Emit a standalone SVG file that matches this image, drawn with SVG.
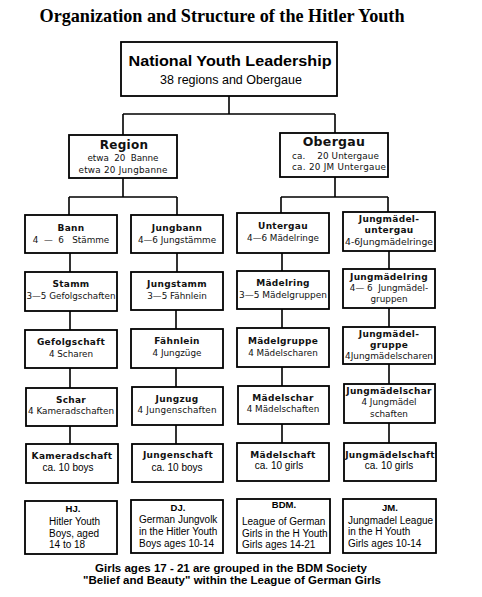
<svg xmlns="http://www.w3.org/2000/svg" width="482" height="597" viewBox="0 0 482 597">
<style>
.bx{fill:#fff;stroke:#000;stroke-width:1.8}
.ln{stroke:#000;stroke-width:1.6;fill:none}
.t{font-family:"DejaVu Sans","Liberation Sans",sans-serif;font-weight:bold;font-size:9px;text-anchor:middle;fill:#111;letter-spacing:0.3px}
.s{font-family:"DejaVu Sans","Liberation Sans",sans-serif;font-size:8.8px;text-anchor:middle;fill:#111}
.a{font-family:"Liberation Sans",Arial,sans-serif;font-size:10px;fill:#000}
.ac{font-family:"Liberation Sans",Arial,sans-serif;font-size:10px;fill:#000;text-anchor:middle}
.ab{font-family:"Liberation Sans",Arial,sans-serif;font-size:9.5px;font-weight:bold;fill:#000;text-anchor:middle}
</style>
<rect width="482" height="597" fill="#fff"/>
<text x="222" y="22" font-family="'Liberation Serif','DejaVu Serif',serif" font-size="19" font-weight="bold" text-anchor="middle" textLength="365" lengthAdjust="spacingAndGlyphs">Organization and Structure of the Hitler Youth</text>

<g id="connectors">
<path class="ln" d="M229 96V114M123 114H335M123 114V135M335 114V133"/>
<path class="ln" d="M123 178V197M69 197H177M69 197V215M177 197V215"/>
<path class="ln" d="M335 177V197M281 197H388M281 197V213M388 197V212"/>
<path class="ln" d="M70 253V272M70 311V330M70 368V388M70 426V444"/>
<path class="ln" d="M177 253V272M176 310V329M176 368V387M176 425V444"/>
<path class="ln" d="M282 253V271M282 309V328M282 367V386M282 424V443"/>
<path class="ln" d="M389 251V269M389 308V327M389 364V384M389 423V443"/>
</g>

<g id="national"><rect class="bx" x="121" y="42" width="216" height="54"/>
<text x="230" y="66" font-family="'Liberation Sans',Arial,sans-serif" font-weight="bold" font-size="14.5" text-anchor="middle" textLength="203" lengthAdjust="spacingAndGlyphs">National Youth Leadership</text>
<text class="ac" x="231" y="84" style="font-size:12.5px">38 regions and Obergaue</text></g>

<g id="region"><rect class="bx" x="69" y="135" width="108" height="43"/>
<text class="t" x="124" y="149" style="font-size:12px">Region</text>
<text class="s" x="123" y="161" textLength="71" xml:space="preserve">etwa  20  Banne</text>
<text class="s" x="123" y="173" textLength="89">etwa 20 Jungbanne</text></g>

<g id="obergau"><rect class="bx" x="280" y="133" width="108" height="44"/>
<text class="t" x="334" y="146" style="font-size:12.5px">Obergau</text>
<text class="s" x="292" y="159" style="text-anchor:start" textLength="87" xml:space="preserve">ca.    20 Untergaue</text>
<text class="s" x="292" y="170" style="text-anchor:start" textLength="94">ca. 20 JM Untergaue</text></g>

<g id="bann"><rect class="bx" x="25" y="215" width="92" height="38"/>
<text class="t" x="71" y="231">Bann</text><text class="s" x="71" y="243" xml:space="preserve">4  —  6   Stämme</text></g>
<g id="jungbann"><rect class="bx" x="131" y="215" width="92" height="38"/>
<text class="t" x="177" y="231">Jungbann</text><text class="s" x="177" y="243">4—6 Jungstämme</text></g>
<g id="untergau"><rect class="bx" x="237" y="213" width="92" height="40"/>
<text class="t" x="283" y="229">Untergau</text><text class="s" x="283" y="241">4—6 Mädelringe</text></g>
<g id="jmuntergau"><rect class="bx" x="343" y="212" width="92" height="39"/>
<text class="t" x="389" y="222">Jungmädel-</text><text class="t" x="389" y="233">untergau</text><text class="s" x="389" y="245" textLength="88" lengthAdjust="spacingAndGlyphs">4-6Jungmädelringe</text></g>

<g id="stamm"><rect class="bx" x="25" y="272" width="92" height="39"/>
<text class="t" x="71" y="287">Stamm</text><text class="s" x="71" y="299" textLength="89" lengthAdjust="spacingAndGlyphs">3—5 Gefolgschaften</text></g>
<g id="jungstamm"><rect class="bx" x="131" y="272" width="92" height="38"/>
<text class="t" x="177" y="287">Jungstamm</text><text class="s" x="177" y="299">3—5 Fähnlein</text></g>
<g id="maedelring"><rect class="bx" x="237" y="271" width="92" height="38"/>
<text class="t" x="283" y="286">Mädelring</text><text class="s" x="283" y="298" textLength="88" lengthAdjust="spacingAndGlyphs">3—5 Mädelgruppen</text></g>
<g id="jmring"><rect class="bx" x="343" y="269" width="92" height="39"/>
<text class="t" x="389" y="280">Jungmädelring</text><text class="s" x="389" y="291" xml:space="preserve">4— 6  Jungmädel-</text><text class="s" x="389" y="302">gruppen</text></g>

<g id="gefolgschaft"><rect class="bx" x="25" y="330" width="92" height="38"/>
<text class="t" x="71" y="345">Gefolgschaft</text><text class="s" x="71" y="357">4 Scharen</text></g>
<g id="faehnlein"><rect class="bx" x="131" y="329" width="92" height="39"/>
<text class="t" x="177" y="344">Fähnlein</text><text class="s" x="177" y="356">4 Jungzüge</text></g>
<g id="maedelgruppe"><rect class="bx" x="237" y="328" width="92" height="39"/>
<text class="t" x="283" y="344">Mädelgruppe</text><text class="s" x="283" y="356">4 Mädelscharen</text></g>
<g id="jmgruppe"><rect class="bx" x="343" y="327" width="92" height="37"/>
<text class="t" x="389" y="337">Jungmädel-</text><text class="t" x="389" y="348">gruppe</text><text class="s" x="389" y="359" textLength="88" lengthAdjust="spacingAndGlyphs">4Jungmädelscharen</text></g>

<g id="schar"><rect class="bx" x="26" y="388" width="91" height="38"/>
<text class="t" x="71" y="403">Schar</text><text class="s" x="71" y="414" textLength="86" lengthAdjust="spacingAndGlyphs">4 Kameradschaften</text></g>
<g id="jungzug"><rect class="bx" x="132" y="387" width="91" height="38"/>
<text class="t" x="177" y="402">Jungzug</text><text class="s" x="177" y="413" textLength="79">4 Jungenschaften</text></g>
<g id="maedelschar"><rect class="bx" x="238" y="386" width="91" height="38"/>
<text class="t" x="283" y="401">Mädelschar</text><text class="s" x="283" y="412">4 Mädelschaften</text></g>
<g id="jmschar"><rect class="bx" x="344" y="384" width="91" height="39"/>
<text class="t" x="389" y="394">Jungmädelschar</text><text class="s" x="389" y="405">4 Jungmädel</text><text class="s" x="389" y="417">schaften</text></g>

<g id="kameradschaft"><rect class="bx" x="26" y="444" width="92" height="39"/>
<text class="t" x="72" y="459">Kameradschaft</text><text class="ac" x="68" y="471">ca. 10 boys</text></g>
<g id="jungenschaft"><rect class="bx" x="132" y="444" width="91" height="38"/>
<text class="t" x="178" y="458">Jungenschaft</text><text class="ac" x="177" y="471">ca. 10 boys</text></g>
<g id="maedelschaft"><rect class="bx" x="237" y="443" width="92" height="38"/>
<text class="t" x="283" y="458">Mädelschaft</text><text class="ac" x="279" y="469">ca. 10 girls</text></g>
<g id="jmschaft"><rect class="bx" x="344" y="443" width="92" height="38"/>
<text class="t" x="390" y="458">Jungmädelschaft</text><text class="ac" x="389" y="469">ca. 10 girls</text></g>

<g id="hj"><rect class="bx" x="25" y="501" width="92" height="53"/>
<text class="ab" x="73" y="512">HJ.</text>
<text class="a" x="49" y="525">Hitler Youth</text><text class="a" x="49" y="537">Boys, aged</text><text class="a" x="49" y="548">14 to 18</text></g>
<g id="dj"><rect class="bx" x="131" y="500" width="92" height="53"/>
<text class="ab" x="178" y="511">DJ.</text>
<text class="a" x="139" y="523">German Jungvolk</text><text class="a" x="139" y="535">in the Hitler Youth</text><text class="a" x="139" y="547">Boys ages 10-14</text></g>
<g id="bdm"><rect class="bx" x="237" y="499" width="93" height="54"/>
<text class="ab" x="284" y="508">BDM.</text>
<text class="a" x="242" y="525">League of German</text><text class="a" x="242" y="537">Girls in the H Youth</text><text class="a" x="242" y="548">Girls ages 14-21</text></g>
<g id="jm"><rect class="bx" x="343" y="499" width="93" height="54"/>
<text class="ab" x="390" y="511">JM.</text>
<text class="a" x="348" y="524">Jungmadel League</text><text class="a" x="348" y="535">in the H Youth</text><text class="a" x="348" y="547">Girls ages 10-14</text></g>

<text class="ab" x="231" y="572" style="font-size:10px" textLength="272" lengthAdjust="spacingAndGlyphs">Girls ages 17 - 21 are grouped in the BDM Society</text>
<text class="ab" x="232" y="584" style="font-size:10px" textLength="298" lengthAdjust="spacingAndGlyphs">"Belief and Beauty" within the League of German Girls</text>
</svg>
